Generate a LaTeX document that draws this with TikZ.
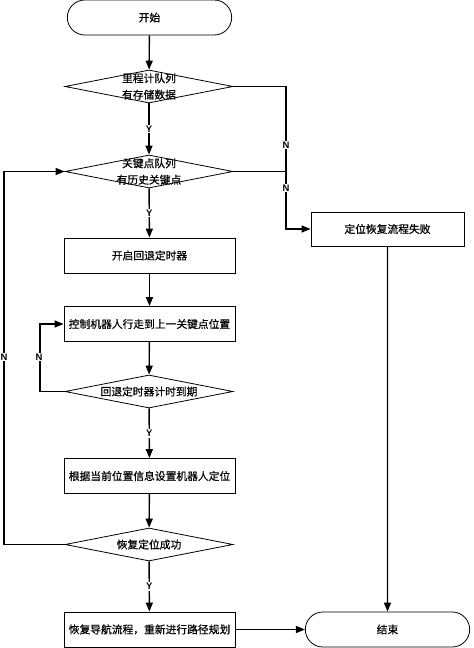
\documentclass[tikz,border=0pt]{standalone}
\usepackage{fontspec}
\newfontfamily\cjkfont[FakeBold=0.6]{Noto Sans CJK SC}
\setsansfont{Liberation Sans}
\usetikzlibrary{shapes.geometric, shapes.misc, arrows.meta}

\begin{document}
\begin{tikzpicture}[
    x=1bp, y=-1bp,
    terminal/.style={rounded rectangle, draw, line width=0.8bp, minimum width=171bp, minimum height=35bp},
    process/.style={rectangle, draw, line width=0.8bp, minimum width=171bp, minimum height=35bp},
    decision/.style={diamond, draw, line width=0.8bp, minimum width=168bp, minimum height=33bp, inner sep=0pt,
        label={[align=center, inner sep=0pt]center:#1}},
    line/.style={draw, line width=1.4bp, -{Triangle[length=9bp, width=7bp]}},
    branch/.style={draw, line width=1.1bp},
    yn/.style={fill=white, inner sep=1bp, font=\sffamily\bfseries\fontsize{9.5}{11}\selectfont},
    every node/.style={font=\cjkfont\fontsize{10.8}{16.5}\selectfont}
]
\useasboundingbox (0,0) rectangle (474,648);

% Terminals
\node[terminal] (start) at (149.5,17.5) {开始};
\node[terminal] (end) at (387.5,629.5) {结束};

% Decisions
\node[decision={里程计队列\\有存储数据}] (odom) at (149,86.5) {};
\node[decision={关键点队列\\有历史关键点}] (keypt) at (149,171.5) {};
\node[decision={回退定时器计时到期}] (timeout) at (149,391.5) {};
\node[decision={恢复定位成功}] (success) at (149,544.5) {};

% Processes
\node[process] (timer) at (149.5,255.5) {开启回退定时器};
\node[process] (walk) at (149.5,324) {控制机器人行走到上一关键点位置};
\node[process] (setpose) at (149.5,476) {根据当前位置信息设置机器人定位};
\node[process] (nav) at (149.5,629.5) {恢复导航流程，重新进行路径规划};
\node[process, minimum width=153bp, minimum height=34bp] (fail) at (387.5,229) {定位恢复流程失败};

% Main flow
\draw[line] (start) -- (odom);
\draw[line] (odom) -- node[yn] (y1) {Y} (keypt);
\draw[line] (keypt) -- node[yn] (y2) {Y} (timer);
\draw[line] (timer) -- (walk);
\draw[line] (walk) -- (timeout);
\draw[line] (timeout) -- node[yn] (y3) {Y} (setpose);
\draw[line] (setpose) -- (success);
\draw[line] (success) -- node[yn] (y4) {Y} (nav);
\draw[line] (nav) -- (end);
\draw[line] (fail) -- (end);

% No branches
\coordinate (nfork) at (286,229);
\coordinate (loopa) at (40,391.5);
\coordinate (loopb) at (4,544.5);
\draw[line] (odom.east) -| (nfork) -- (fail.west);
\draw[branch] (keypt.east) -- (keypt.east -| nfork);
\draw[line] (timeout.west) -- (loopa) |- (walk.west);
\draw[line] (success.west) -- (loopb) |- (keypt.west);

\node[yn] (n1) at (286,145) {N};
\node[yn] (n2) at (286,188) {N};
\node[yn] (n3) at (39,357) {N};
\node[yn] (n4) at (4,357) {N};

\end{tikzpicture}
\end{document}
